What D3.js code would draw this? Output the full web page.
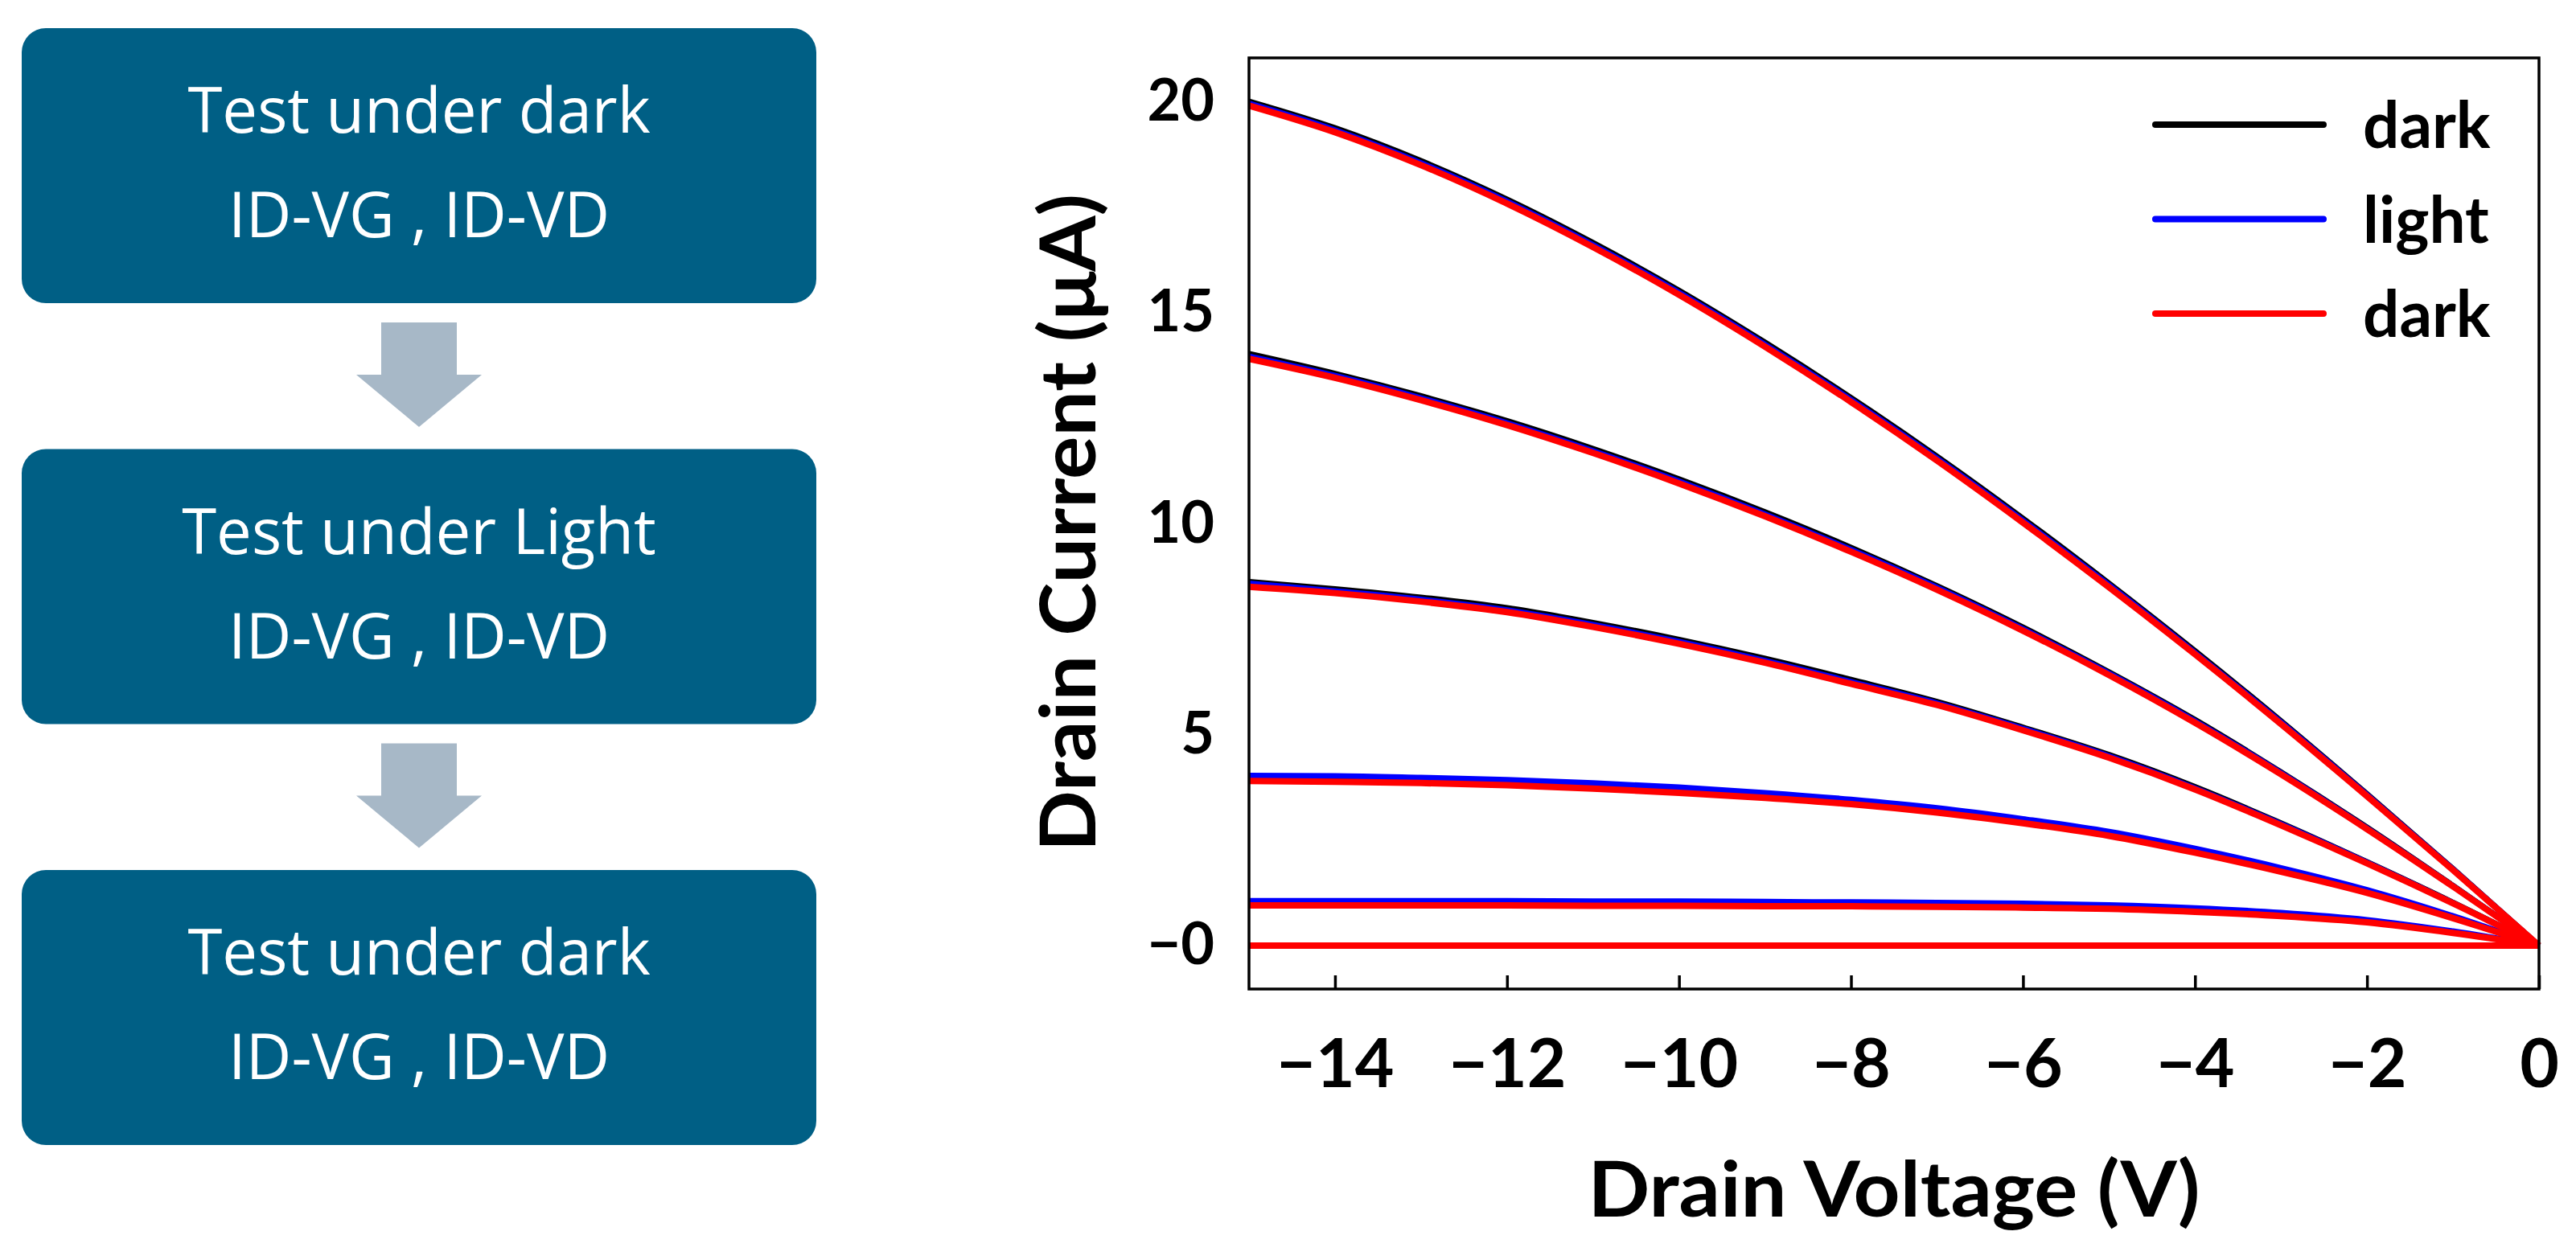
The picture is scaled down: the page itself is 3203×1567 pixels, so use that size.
<!DOCTYPE html>
<html>
<head>
<meta charset="utf-8">
<script src="https://cdn.jsdelivr.net/npm/d3@7"></script>
<style>
  body { margin:0; background:#fff; }
  svg { display:block; }
</style>
</head>
<body>
<svg width="3203" height="1567"></svg>
<script>
const STEPS = ["Test under dark", "Test under Light", "Test under dark"];
const STEP_SUB = "ID-VG , ID-VD";

const VD = [-15,-14,-13,-12,-11,-10,-9,-8,-7,-6,-5,-4,-3,-2,-1,0];

// one row per gate bias, top curve first
const DARK_BEFORE = [
  [20.0,19.37,18.59,17.68,16.65,15.52,14.29,12.98,11.59,10.12,8.58,6.98,5.32,3.59,1.82,0],
  [14.02,13.55,13.02,12.43,11.77,11.05,10.27,9.43,8.52,7.54,6.48,5.35,4.11,2.8,1.42,0],
  [8.62,8.45,8.25,8.0,7.65,7.25,6.8,6.3,5.78,5.17,4.52,3.76,2.9,1.98,1.02,0],
  [3.92,3.9,3.87,3.82,3.74,3.64,3.52,3.37,3.17,2.92,2.62,2.22,1.77,1.26,0.66,0],
  [0.96,0.96,0.96,0.96,0.95,0.95,0.94,0.94,0.93,0.91,0.88,0.81,0.71,0.56,0.31,0],
  [0,0,0,0,0,0,0,0,0,0,0,0,0,0,0,0]
];
const LIGHT = [
  [19.95,19.32,18.54,17.63,16.6,15.47,14.24,12.93,11.54,10.07,8.54,6.94,5.29,3.57,1.81,0],
  [13.96,13.5,12.97,12.38,11.72,11.0,10.22,9.38,8.48,7.5,6.45,5.32,4.09,2.78,1.41,0],
  [8.58,8.4,8.2,7.95,7.6,7.2,6.75,6.25,5.74,5.14,4.49,3.73,2.88,1.97,1.01,0],
  [4.03,4.02,3.98,3.93,3.85,3.75,3.62,3.46,3.26,3.0,2.7,2.3,1.84,1.32,0.7,0],
  [1.06,1.06,1.06,1.06,1.05,1.05,1.04,1.03,1.02,1.0,0.96,0.89,0.78,0.61,0.34,0],
  [0,0,0,0,0,0,0,0,0,0,0,0,0,0,0,0]
];
const DARK_AFTER = [
  [19.9,19.27,18.49,17.58,16.55,15.42,14.19,12.88,11.49,10.02,8.49,6.9,5.25,3.54,1.79,0],
  [13.9,13.45,12.92,12.33,11.67,10.95,10.17,9.33,8.43,7.46,6.41,5.28,4.06,2.76,1.4,0],
  [8.5,8.35,8.15,7.9,7.55,7.15,6.7,6.2,5.7,5.1,4.45,3.7,2.85,1.95,1.0,0],
  [3.9,3.88,3.85,3.8,3.72,3.62,3.5,3.35,3.15,2.9,2.6,2.2,1.75,1.25,0.65,0],
  [0.95,0.95,0.95,0.95,0.94,0.94,0.93,0.93,0.92,0.9,0.87,0.8,0.7,0.55,0.3,0],
  [0,0,0,0,0,0,0,0,0,0,0,0,0,0,0,0]
];

const SERIES_NAMES = ["dark", "light", "dark"];
const SERIES_COLORS = ["#000000", "#0000ff", "#ff0000"];
const X_TICKS = [-14,-12,-10,-8,-6,-4,-2,0];
const Y_TICKS = [0,5,10,15,20];

const svg = d3.select("svg");

// ---- flow chart on the left
const boxY = d3.scaleLinear().domain([0, 2]).range([35, 1082]);
const boxX = 27, boxW = 988, boxH = 342, boxCx = 521;

const flow = svg.append("g");

flow.selectAll(".step")
  .data(STEPS)
  .enter()
  .append("rect")
  .classed("step", true)
  .attr("x", boxX)
  .attr("y", (d, i) => boxY(i))
  .attr("width", boxW)
  .attr("height", boxH)
  .attr("rx", 30)
  .attr("fill", "#005f85");

flow.selectAll(".step-title")
  .data(STEPS)
  .enter()
  .append("text")
  .attr("x", boxCx)
  .attr("y", (d, i) => boxY(i) + 130)
  .attr("text-anchor", "middle")
  .attr("font-family", "'Open Sans', sans-serif")
  .attr("font-size", 78)
  .attr("fill", "#fff")
  .text(d => d);

flow.selectAll(".step-sub")
  .data(STEPS)
  .enter()
  .append("text")
  .attr("x", boxCx)
  .attr("y", (d, i) => boxY(i) + 260)
  .attr("text-anchor", "middle")
  .attr("font-family", "'Open Sans', sans-serif")
  .attr("font-size", 78)
  .attr("fill", "#fff")
  .text(STEP_SUB);

// down arrows between the boxes
flow.selectAll(".arrow")
  .data(STEPS.slice(1))
  .enter()
  .append("path")
  .attr("d", (d, i) => {
    const y0 = boxY(i) + boxH + 24;
    return `M${boxCx-47},${y0} L${boxCx+47},${y0} L${boxCx+47},${y0+65} L${boxCx+78},${y0+65}
            L${boxCx},${y0+130} L${boxCx-78},${y0+65} L${boxCx-47},${y0+65} Z`;
  })
  .attr("fill", "#a7b8c7");

// ---- output characteristics plot
const pLeft = 1553, pRight = 3157, pTop = 72, pBottom = 1230;

const xScale = d3.scaleLinear().domain([-15, 0]).range([pLeft, pRight]);
const yScale = d3.scaleLinear().domain([-1.03, 21.03]).range([pBottom, pTop]);

const line = d3.line()
  .x((d, i) => xScale(VD[i]))
  .y(d => yScale(d))
  .curve(d3.curveMonotoneX);

const plot = svg.append("g");

[DARK_BEFORE, LIGHT, DARK_AFTER].forEach((set, k) => {
  plot.append("g")
    .selectAll("path")
    .data(set)
    .enter()
    .append("path")
    .attr("d", line)
    .attr("fill", "none")
    .attr("stroke", SERIES_COLORS[k])
    .attr("stroke-width", k === 2 ? 8 : 7)
    .attr("stroke-linejoin", "round");
});

plot.append("rect")
  .attr("x", pLeft)
  .attr("y", pTop)
  .attr("width", pRight - pLeft)
  .attr("height", pBottom - pTop)
  .attr("fill", "none")
  .attr("stroke", "#000")
  .attr("stroke-width", 3.5);

const xAxis = plot.append("g")
  .attr("transform", `translate(0,${pBottom})`)
  .call(d3.axisBottom(xScale).tickValues(X_TICKS).tickSizeInner(-17).tickSizeOuter(0));
xAxis.select(".domain").remove();
xAxis.selectAll(".tick line").attr("stroke", "#000").attr("stroke-width", 3.5);
xAxis.selectAll(".tick text")
  .attr("y", 122)
  .attr("dy", 0)
  .attr("fill", "#000")
  .attr("font-family", "Lato, sans-serif")
  .attr("font-weight", 700)
  .attr("font-size", 84);

const yAxis = plot.append("g")
  .attr("transform", `translate(${pLeft},0)`)
  .call(d3.axisLeft(yScale).tickValues(Y_TICKS).tickSize(0).tickPadding(43)
    .tickFormat(d => d === 0 ? "\u22120" : d));
yAxis.select(".domain").remove();
yAxis.selectAll(".tick text")
  .attr("fill", "#000")
  .attr("font-family", "Lato, sans-serif")
  .attr("font-weight", 700)
  .attr("font-size", 72);

plot.append("text")
  .attr("x", 2355)
  .attr("y", 1513)
  .attr("text-anchor", "middle")
  .attr("font-family", "Lato, sans-serif")
  .attr("font-weight", 700)
  .attr("font-size", 96)
  .attr("textLength", 761)
  .attr("lengthAdjust", "spacingAndGlyphs")
  .text("Drain Voltage (V)");

plot.append("text")
  .attr("transform", "translate(1362,650) rotate(-90)")
  .attr("text-anchor", "middle")
  .attr("font-family", "Lato, sans-serif")
  .attr("font-weight", 700)
  .attr("font-size", 96)
  .attr("textLength", 818)
  .attr("lengthAdjust", "spacingAndGlyphs")
  .text("Drain Current (\u03bcA)");

// legend
const legendY = d3.scaleLinear().domain([0, 2]).range([155, 390]);
const legend = plot.append("g");

legend.selectAll("line")
  .data(SERIES_NAMES)
  .enter()
  .append("line")
  .attr("x1", 2680)
  .attr("x2", 2889)
  .attr("y1", (d, i) => legendY(i))
  .attr("y2", (d, i) => legendY(i))
  .attr("stroke", (d, i) => SERIES_COLORS[i])
  .attr("stroke-width", 8)
  .attr("stroke-linecap", "round");

legend.selectAll("text")
  .data(SERIES_NAMES)
  .enter()
  .append("text")
  .attr("x", 2938)
  .attr("y", (d, i) => legendY(i) + 29)
  .attr("font-family", "Lato, sans-serif")
  .attr("font-weight", 700)
  .attr("font-size", 80)
  .text(d => d);
</script>
</body>
</html>
